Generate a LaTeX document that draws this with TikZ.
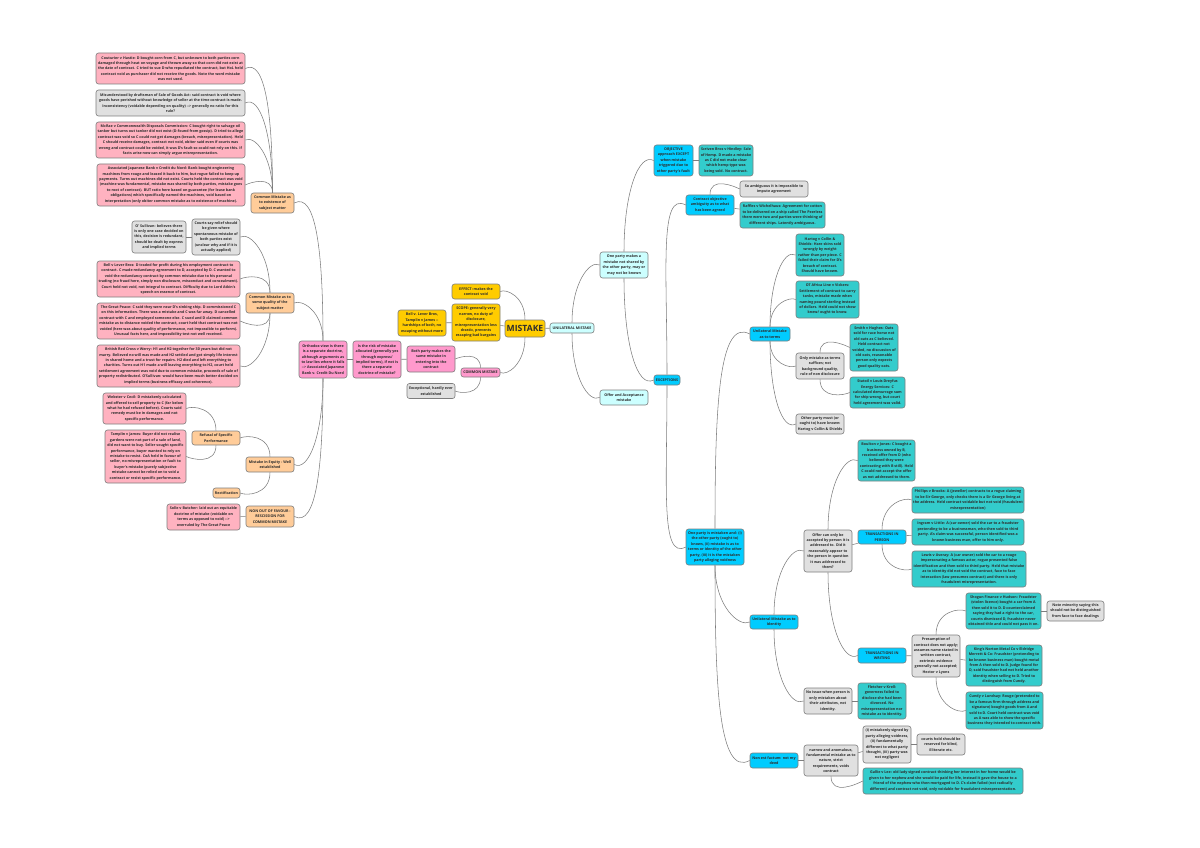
\documentclass[tikz,border=0pt]{standalone}
\usepackage{fontspec}
\setmainfont{Open Sans}
\usetikzlibrary{positioning}
\definecolor{mapLine}{RGB}{125, 125, 125}
\definecolor{mapText}{RGB}{45, 45, 45}
\definecolor{mapPink}{RGB}{255, 178, 192}
\definecolor{mapGrey}{RGB}{224, 224, 224}
\definecolor{mapPeach}{RGB}{255, 204, 153}
\definecolor{mapMagenta}{RGB}{255, 153, 204}
\definecolor{mapGold}{RGB}{255, 204, 0}
\definecolor{mapIce}{RGB}{204, 255, 255}
\definecolor{mapBlue}{RGB}{0, 204, 255}
\definecolor{mapTeal}{RGB}{51, 204, 204}
\tikzset{
  mapbox/.style n args={2}{draw=mapLine, line width=0.6pt, rounded corners=2.5pt, align=center, inner sep=0pt, text=mapText,
    font=\fontsize{3.65}{5.4}\selectfont\bfseries, minimum width=#1pt, minimum height=#2pt},
  pinkcase/.style 2 args={mapbox={#1}{#2}, fill=mapPink},
  greynote/.style 2 args={mapbox={#1}{#2}, fill=mapGrey},
  peachhead/.style 2 args={mapbox={#1}{#2}, fill=mapPeach},
  magentabox/.style 2 args={mapbox={#1}{#2}, fill=mapMagenta},
  goldbox/.style 2 args={mapbox={#1}{#2}, fill=mapGold},
  icebox/.style 2 args={mapbox={#1}{#2}, fill=mapIce},
  bluehead/.style 2 args={mapbox={#1}{#2}, fill=mapBlue},
  tealcase/.style 2 args={mapbox={#1}{#2}, fill=mapTeal},
  link/.style={draw=mapLine, line width=0.55pt},
  riseleft/.style={out=90, in=28, out looseness=1.6, in looseness=0.45},
  dropleft/.style={out=-90, in=-28, out looseness=1.6, in looseness=0.45},
  riseright/.style={out=90, in=152, out looseness=1.6, in looseness=0.45},
  dropright/.style={out=-90, in=208, out looseness=1.6, in looseness=0.45}
}
\begin{document}
\begin{tikzpicture}[x=1pt, y=-1pt]
  \useasboundingbox (0,0) rectangle (1200,848);

  % centre
  \node[goldbox={40}{17}, font=\fontsize{8.6}{11}\selectfont\bfseries] (mistake) at (525,328.5) {MISTAKE};
  \node[goldbox={48}{15}] (effect) at (476,291.5) {EFFECT: makes the\\contract void};
  \node[goldbox={48}{37}] (scope) at (476,322.5) {SCOPE: generally very\\narrow, no duty of\\disclosure,\\misrepresentation less\\drastic, prevents\\escaping bad bargains};
  \node[goldbox={48}{26}] (hardship) at (422,323) {Bell v. Lever Bros,\\Tamplin v James -{}-\\hardships of both, no\\escaping without more};
  \node[magentabox={39}{9}] (commonmistake) at (480.5,372.5) {COMMON MISTAKE};
  \node[magentabox={48}{26}] (bothparty) at (431,359) {Both party makes the\\same mistake in\\entering into the\\contract};
  \node[greynote={48}{15}] (exceptional) at (431,391) {Exceptional, hardly ever\\established};
  \node[magentabox={48}{37}] (riskalloc) at (377,359.5) {Is the risk of mistake\\allocated (generally yes\\through express/\\implied terms), if not is\\there a separate\\doctrine of mistake?};
  \node[magentabox={48}{37}] (orthodox) at (323,359.5) {Orthodox view is there\\is a separate doctrine,\\although arguments as\\to law lies where it falls\\-{}-> Associated Japanese\\Bank v. Credit Du Nord};

  % common mistake, existence
  \node[peachhead={43}{20}] (existence) at (272.5,203) {Common Mistake as\\to existence of\\subject matter};
  \node[pinkcase={149}{31}] (couturier) at (170.5,68.5) {Couturier v Hastie: D bought corn from C, but unknown to both parties corn\\damaged through heat on voyage and thrown away so that corn did not exist at\\the date of contract. C tried to sue D who repudiated the contract, but HoL held\\contract void as purchaser did not receive the goods. Note the word mistake\\was not used.};
  \node[greynote={149}{26}] (draftsman) at (170.5,103) {Misunderstood by draftsman of Sale of Goods Act: said contract is void where\\goods have perished without knowledge of seller at the time contract is made.\\Inconsistency (voidable depending on quality) -{}-> generally no ratio for this\\rule?};
  \node[pinkcase={149}{36}] (mcrae) at (170.5,140) {McRae v Commonwealth Disposals Commission: C bought right to salvage oil\\tanker but turns out tanker did not exist (D-found from gossip). D tried to allege\\contract was void so C could not get damages (breach, misrepresentation). Held\\C should receive damages, contract not void, obiter said even if courts was\\wrong and contract could be voided, it was D's fault so could not rely on this. If\\facts arise now can simply argue misrepresentation.};
  \node[pinkcase={148}{42}] (associated) at (171,185) {Associated Japanese Bank v Credit du Nord: Bank bought engineering\\machines from rouge and leased it back to him, but rogue failed to keep up\\payments. Turns out machines did not exist. Courts held the contract was void\\(machine was fundamental, mistake was shared by both parties, mistake goes\\to root of contract). BUT ratio here based on guarantee (for lease bank\\obligations) which specifically named the machines, void based on\\interpretation (only obiter common mistake as to existence of machine).};

  % common mistake, quality
  \node[peachhead={48}{20}] (quality) at (270,303) {Common Mistake as to\\some quality of the\\subject matter};
  \node[greynote={54}{32}] (osullivan) at (159,237) {O' Sullivan: believes there\\is only one case decided on\\this, decision is redundant,\\should be dealt by express\\and implied terms};
  \node[greynote={48}{36}] (relief) at (216,237) {Courts say relief should\\be given where\\spontaneous mistake of\\both parties exist\\(unclear why and if it is\\actually applied)};
  \node[pinkcase={143}{36}] (bell) at (168.5,279) {Bell v Lever Bros: D traded for profit during his employment contract to\\contract. C made redundancy agreement to D, accepted by D. C wanted to\\void the redundancy contract by common mistake due to his personal\\trading (no fraud here, simply non disclosure, misconduct and concealment).\\Court held not void, not integral to contract. Difficulty due to Lord Atkin's\\speech on essence of contract.};
  \node[pinkcase={143}{36}] (greatpeace) at (168.5,321) {The Great Peace: C said they were near D's sinking ship. D commissioned C\\on this information. There was a mistake and C was far away. D cancelled\\contract with C and employed someone else. C sued and D claimed common\\mistake as to distance voided the contract, court held that contract was not\\voided (here was about quality of performance, not impossible to perform).\\Unusual facts here, and impossibility test not well received.};
  \node[pinkcase={143}{42}] (redcross) at (168.5,366) {British Red Cross v Werry: H1 and H2 together for 30 years but did not\\marry. Believed no will was made and H2 settled and got simply life interest\\in shared home and a trust for repairs. H2 died and left everything to\\charities. Turns out H1 made a will leaving everything to H2, court held\\settlement agreement was void due to common mistake, proceeds of sale of\\property redistributed. O'Sullivan: would have been much better decided on\\implied terms (business efficacy and coherence).};

  % equity
  \node[peachhead={48}{15}] (equity) at (270,464.5) {Mistake in Equity - Well\\established};
  \node[peachhead={48}{14}] (refusal) at (216,438) {Refusal of Specific\\Performance};
  \node[peachhead={27}{10}] (rectification) at (226.5,493) {Rectification};
  \node[pinkcase={83}{31}] (webster) at (144.5,408.5) {Webster v Cecil: D mistakenly calculated\\and offered to sell property to C (far below\\what he had refused before). Courts said\\remedy must be in damages and not\\specific performance.};
  \node[pinkcase={81}{53}] (tamplin) at (145.5,456.5) {Tamplin v James: Buyer did not realise\\gardens were not part of a sale of land,\\did not want to buy. Seller sought specific\\performance, buyer wanted to rely on\\mistake to resist. CoA held in favour of\\seller, no misrepresentation or fault to\\buyer's mistake (purely subjective\\mistake cannot be relied on to void a\\contract or resist specific performance.};
  \node[peachhead={48}{21}] (outfavour) at (270,516.5) {NON OUT OF FAVOUR -\\RESCISSION FOR\\COMMON MISTAKE};
  \node[pinkcase={73}{26}] (solle) at (203.5,517) {Solle v Butcher: laid out an equitable\\doctrine of mistake (voidable on\\terms as opposed to void) -{}->\\overruled by The Great Peace};

  % unilateral
  \node[icebox={44}{10}] (unilateral) at (572,328) {UNILATERAL MISTAKE};
  \node[icebox={48}{26}] (notshared) at (624,265) {One party makes a\\mistake not shared by\\the other party, may or\\may not be known};
  \node[icebox={48}{15}] (acceptance) at (624,397.5) {Offer and Acceptance\\mistake};
  \node[bluehead={39}{31}] (objective) at (673.5,160.5) {OBJECTIVE\\approach EXCEPT\\when mistake\\triggered due to\\other party's fault};
  \node[tealcase={54}{31}] (scriven) at (726,160.5) {Scriven Bros v Hindley: Sale\\of Hemp. D made a mistake\\as C did not make clear\\which hemp type was\\being sold. No contract.};
  \node[bluehead={26}{10}] (exceptions) at (667,380) {EXCEPTIONS};
  \node[bluehead={48}{20}] (ambiguity) at (710,205) {Contract objective\\ambiguity as to what\\has been agreed};
  \node[greynote={68}{16}] (impute) at (774,189) {So ambiguous it is impossible to\\impute agreement};
  \node[tealcase={85}{26}] (raffles) at (782.5,215) {Raffles v Wichelhaus: Agreement for cotton\\to be delivered on a ship called The Peerless\\there were two and parties were thinking of\\different ships. Latently ambiguous.};

  % terms
  \node[bluehead={40}{14}] (terms) at (770,334) {Unilateral Mistake\\as to terms};
  \node[tealcase={48}{42}] (hartog) at (820,255) {Hartog v Collin \&\\Shields: Hare skins sold\\wrongly by weight\\rather than per piece. C\\failed their claim for D's\\breach of contract.\\Should have known.};
  \node[tealcase={63}{37}] (otafrica) at (827.5,299.5) {OT Africa Line v Vickers:\\Settlement of contract to carry\\tanks, mistake made when\\naming pound sterling instead\\of dollars. Held could not show\\knew/ ought to know.};
  \node[greynote={48}{26}] (onlyterms) at (820,366) {Only mistake as terms\\suffices; not\\background quality,\\rule of non disclosure};
  \node[tealcase={48}{47}] (smith) at (874,347.5) {Smith v Hughes: Oats\\sold for race horse not\\old oats as C believed.\\Held contract not\\voided, no discussion of\\old oats, reasonable\\person only expects\\good quality oats.};
  \node[tealcase={55}{31}] (statoil) at (877.5,392.5) {Statoil v Louis Dreyfus\\Energy Services: C\\calculated demurrage sum\\for ship wrong, but court\\held agreement was valid.};
  \node[greynote={48}{20}] (knownparty) at (820,424) {Other party must (or\\ought to) have known:\\Hartog v Collin \& Shields};

  % identity
  \node[bluehead={58}{36}] (mistaken) at (715,547) {One party is mistaken and: (i)\\the other party (ought to)\\knows, (ii) mistake is as to\\terms or identity of the other\\party, (iii) it is the mistaken\\party alleging voidness};
  \node[bluehead={48}{14}] (identity) at (774,622) {Unilateral Mistake as to\\Identity};
  \node[greynote={48}{42}] (addressed) at (828,551) {Offer can only be\\accepted by person it is\\addressed to. Did it\\reasonably appear to\\the person in question\\it was addressed to\\them?};
  \node[tealcase={57}{41}] (boulton) at (886.5,460.5) {Boulton v Jones: C bought a\\business owned by B,\\received offer from D (who\\believed they were\\contracting with B still). Held\\C could not accept the offer\\as not addressed to them.};
  \node[bluehead={48}{14}] (inperson) at (882,537) {TRANSACTIONS IN\\PERSON};
  \node[tealcase={112}{26}] (phillips) at (968,500) {Phillips v Brooks: A (jeweller) contracts to a rogue claiming\\to be Sir George, only checks there is a Sir George living at\\the address. Held contract voidable but not void (fraudulent\\misrepresentation)};
  \node[tealcase={112}{26}] (ingram) at (968,532) {Ingram v Little: A (car owner) sold the car to a fraudster\\pretending to be a businessman, who then sold to third\\party. A's claim was successful, person identified was a\\known business man, offer to him only.};
  \node[tealcase={114}{36}] (lewis) at (969,569) {Lewis v Averay: A (car owner) sold the car to a rouge\\impersonating a famous actor, rogue presented false\\identification and then sold to third party. Held that mistake\\as to identity did not void the contract, face to face\\interaction (law presumes contract) and there is only\\fraudulent misrepresentation.};
  \node[bluehead={48}{15}] (inwriting) at (882,655.5) {TRANSACTIONS IN\\WRITING};
  \node[greynote={48}{42}] (presumption) at (936,656) {Presumption of\\contract does not apply;\\assumes name stated in\\written contract,\\extrinsic evidence\\generally not accepted;\\Hector v Lyons};
  \node[tealcase={75}{36}] (shogun) at (1003.5,611) {Shogun Finance v Hudson: Fraudster\\(stolen licence) bought a car from A\\then sold it to D. D counterclaimed\\saying they had a right to the car,\\courts dismissed D, fraudster never\\obtained title and could not pass it on.};
  \node[greynote={57}{20}] (minority) at (1075.5,611) {Note minority saying this\\should not be distinguished\\from face to face dealings};
  \node[tealcase={76}{41}] (kingsnorton) at (1004,665.5) {King's Norton Metal Co v Eldridge\\Merrett \& Co: Fraudster (pretending to\\be known business man) bought metal\\from A then sold to D. Judge found for\\D, said fraudster had not held another\\identity when selling to D. Tried to\\distinguish from Cundy.};
  \node[tealcase={77}{37}] (cundy) at (1004.5,710.5) {Cundy v Lundsay: Rouge (pretended to\\be a famous firm through address and\\signature) bought goods from A and\\sold to D. Court held contract was void\\as A was able to show the specific\\business they intended to contract with.};
  \node[greynote={48}{26}] (attributes) at (828,701) {No issue when person is\\only mistaken about\\their attributes, not\\identity.};
  \node[tealcase={48}{36}] (fletcher) at (882,701) {Fletcher v Krell:\\governess failed to\\disclose she had been\\divorced. No\\misrepresentation nor\\mistake as to identity.};

  % non est factum
  \node[bluehead={48}{15}] (nonest) at (774,760.5) {Non est factum: not my\\deed};
  \node[greynote={54}{31}] (narrow) at (831,760.5) {narrow and anomalous,\\fundamental mistake as to\\nature, strict\\requirements, voids\\contract};
  \node[greynote={48}{37}] (signed) at (887,744.5) {(i) mistakenly signed by\\party alleging voidness,\\(ii) fundamentally\\different to what party\\thought, (iii) party was\\not negligent};
  \node[greynote={48}{21}] (blind) at (941,744.5) {courts hold should be\\reserved for blind,\\illiterate etc.};
  \node[tealcase={160}{26}] (gallie) at (943,781) {Gallie v Lee: old lady signed contract thinking her interest in her home would be\\given to her nephew and she would be paid for life, instead it gave the house to a\\friend of the nephew who then mortgaged to D. C's claim failed (not radically\\different) and contract not void, only voidable for fraudulent misrepresentation.};

  % connectors, left side
  \draw[link] (existence.north) to[riseleft] (couturier.east);
  \draw[link] (existence.north) to[riseleft] (draftsman.east);
  \draw[link] (existence.north) to[riseleft] (mcrae.east);
  \draw[link] (existence.north) to[riseleft] (associated.east);
  \draw[link] (quality.north) to[riseleft] (relief.east);
  \draw[link] (quality.north) to[riseleft] (bell.east);
  \draw[link] (quality.south) to[dropleft] (greatpeace.east);
  \draw[link] (quality.south) to[dropleft] (redcross.east);
  \draw[link] (relief) -- (osullivan);
  \draw[link] (refusal.north) to[riseleft] (webster.east);
  \draw[link] (refusal.south) to[dropleft] (tamplin.east);
  \draw[link] (equity.north) to[riseleft] (refusal.east);
  \draw[link] (equity.south) to[dropleft] (rectification.east);
  \draw[link] (outfavour) -- (solle);
  \draw[link] (orthodox.north) to[riseleft] (existence.east);
  \draw[link] (orthodox.north) to[riseleft] (quality.east);
  \draw[link] (orthodox.south) to[dropleft] (equity.east);
  \draw[link] (orthodox.south) to[dropleft] (outfavour.east);
  \draw[link] (riskalloc) -- (orthodox);
  \draw[link] (bothparty) -- (riskalloc);
  \draw[link] (commonmistake.north) to[riseleft] (bothparty.east);
  \draw[link] (commonmistake.south) to[dropleft] (exceptional.east);
  \draw[link] (mistake.north) to[riseleft] (effect.east);
  \draw[link] (mistake.south) to[dropleft] (commonmistake.east);
  \draw[link] (mistake) -- (scope);
  \draw[link] (scope) -- (hardship);

  % connectors, right side
  \draw[link] (mistake) -- (unilateral);
  \draw[link] (unilateral.north) to[riseright] (notshared.west);
  \draw[link] (unilateral.south) to[dropright] (acceptance.west);
  \draw[link] (notshared.north) to[riseright] (objective.west);
  \draw[link] (notshared.south) to[dropright] (exceptions.west);
  \draw[link] (objective) -- (scriven);
  \draw[link] (exceptions.north) to[riseright] (ambiguity.west);
  \draw[link] (exceptions.south) to[dropright] (mistaken.west);
  \draw[link] (ambiguity.north) to[riseright] (impute.west);
  \draw[link] (ambiguity) -- (raffles);
  \draw[link] (mistaken.north) to[riseright] (terms.west);
  \draw[link] (mistaken.south) to[dropright] (identity.west);
  \draw[link] (mistaken.south) to[dropright] (nonest.west);
  \draw[link] (terms.north) to[riseright] (hartog.west);
  \draw[link] (terms.north) to[riseright] (otafrica.west);
  \draw[link] (terms.south) to[dropright] (onlyterms.west);
  \draw[link] (terms.south) to[dropright] (knownparty.west);
  \draw[link] (onlyterms.north) to[riseright] (smith.west);
  \draw[link] (onlyterms.south) to[dropright] (statoil.west);
  \draw[link] (identity.north) to[riseright] (addressed.west);
  \draw[link] (identity.south) to[dropright] (attributes.west);
  \draw[link] (attributes) -- (fletcher);
  \draw[link] (addressed.north) to[riseright] (boulton.west);
  \draw[link] (addressed) -- (inperson);
  \draw[link] (addressed.south) to[dropright] (inwriting.west);
  \draw[link] (inperson.north) to[riseright] (phillips.west);
  \draw[link] (inperson) -- (ingram);
  \draw[link] (inperson.south) to[dropright] (lewis.west);
  \draw[link] (inwriting) -- (presumption);
  \draw[link] (presumption.north) to[riseright] (shogun.west);
  \draw[link] (presumption) -- (kingsnorton);
  \draw[link] (presumption.south) to[dropright] (cundy.west);
  \draw[link] (shogun) -- (minority);
  \draw[link] (nonest) -- (narrow);
  \draw[link] (narrow) -- (signed);
  \draw[link] (signed) -- (blind);
  \draw[link] (narrow.south) to[dropright] (gallie.west);
\end{tikzpicture}
\end{document}
